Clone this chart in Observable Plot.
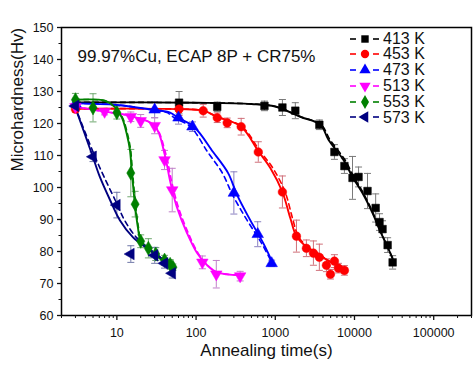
<!DOCTYPE html>
<html><head><meta charset="utf-8">
<script src="https://cdn.jsdelivr.net/npm/d3@7"></script>
<script src="https://cdn.jsdelivr.net/npm/@observablehq/plot@0.6"></script>
<style>
body{margin:0;background:#fff;font-family:"Liberation Sans",Arial,sans-serif;}
#wrap{position:relative;width:474px;height:370px;overflow:hidden;}
#legend{position:absolute;left:348px;top:30.6px;}
.row{display:flex;align-items:center;height:15.8px;font-size:16px;color:#111;line-height:15.8px;}
.row svg{display:block;}
</style></head><body><div id="wrap"><div id="chart"></div><div id="legend"></div></div>
<script>
// ---- data ----
const seriesNames = ["413 K", "453 K", "473 K", "513 K", "553 K", "573 K"];
const annotation = "99.97%Cu, ECAP 8P + CR75%";
const xTitle = "Annealing time(s)";
const yTitle = "Microhardness(Hv)";
const xTickLabels = [10, 100, 1000, 10000, 100000];
const yTickLabels = [60, 70, 80, 90, 100, 110, 120, 130, 140, 150];

// measured points: time (s), hardness (Hv), error (Hv)
const t413 = [61, 185, 730, 1230, 1790, 3600, 5580, 7460, 9440, 11250, 14600, 18500, 20700, 22600, 26200, 30300];
const h413 = [126.5, 125.2, 125.5, 125.0, 124.0, 119.6, 111.1, 106.7, 103.0, 103.3, 98.9, 93.6, 89.2, 87.0, 82.0, 76.6];
const e413 = [3.5, 1.5, 1.5, 2.5, 2.5, 1.5, 2.3, 2.3, 6.7, 3.1, 5.5, 4.4, 2.6, 2.6, 2.3, 2.1];

const t453 = [3, 61, 123, 185, 247, 371, 610, 1230, 1850, 2470, 3030, 3600, 4420, 4970, 5580, 6270, 7460];
const h453 = [124.5, 124.5, 124.0, 121.8, 120.2, 119.0, 111.1, 98.6, 84.8, 81.0, 79.5, 78.2, 75.7, 72.9, 77.0, 74.8, 74.1];
const e453 = [1, 2, 2, 1.5, 1.5, 2.6, 3.2, 5, 5, 2.6, 3.8, 4.1, 2, 1.5, 2, 1.5, 1.5];

const t473 = [3, 30, 60, 90, 300, 600, 900];
const h473 = [126.2, 124.3, 121.8, 119.0, 98.3, 85.4, 76.3];
const e473 = [1.5, 2.5, 2, 1.5, 6.6, 3.9, 1];

const t513 = [3, 7, 15, 20, 30, 40, 50, 120, 180, 360];
const h513 = [125.2, 123.7, 122.1, 120.8, 119.3, 108.6, 99.2, 76.6, 72.9, 72.3];
const e513 = [1, 1, 1.5, 2, 2.5, 3, 6.8, 2, 4.3, 1.5];

const t553 = [3, 5, 10, 15, 17, 20, 25, 31, 40, 47, 51];
const h553 = [127.4, 124.9, 123.4, 104.5, 94.8, 83.2, 81.0, 79.2, 77.3, 76.0, 75.1];
const e553 = [2, 4.4, 2, 7.4, 4, 2, 3, 2, 1.5, 1.5, 1];

const t573 = [3, 5, 10, 15, 30, 40, 50];
const h573 = [125.5, 109.6, 94.5, 79.2, 78.8, 76.3, 73.2];
const e573 = [1.5, 1.5, 4, 2.6, 2.5, 1.5, 1.5];

// fitted curves: hardness levels, with the time of the
// solid fit (ft*) and of the dashed fit (dt*) at that level
const fh413 = [126.6, 126.5, 126.1, 125.3, 122.1, 119.6, 114.9, 108.6, 103.3, 98.3, 92.0, 86.1, 81.4, 77.8];
const ft413 = [3, 100, 500, 1000, 2070, 3720, 4690, 7260, 9440, 12600, 16900, 21300, 26200, 30300];
const dt413 = [3, 100, 500, 1000, 2100, 3800, 4900, 7600, 9800, 12900, 17200, 21500, 26200, 30300];

const fh453 = [124.6, 124.5, 124.0, 122.1, 119.0, 111.4, 106.1, 98.6, 90.4, 84.8, 81.3, 79.5, 77.3, 75.7, 74.4];
const ft453 = [3, 61, 123, 185, 371, 610, 866, 1230, 1550, 1850, 2540, 3400, 4550, 6090, 7690];
const dt453 = [3, 61, 123, 185, 380, 640, 930, 1330, 1650, 1950, 2600, 3450, 4550, 6090, 7690];

const fh473 = [126.3, 125.8, 124.3, 123.4, 121.8, 119.0, 111.1, 104.5, 97.6, 89.8, 82.6, 76.0];
const ft473 = [3, 10, 28.5, 47, 59, 94, 164, 254, 330, 483, 705, 944];
const dt473 = [3, 10, 27, 43, 53, 85, 140, 215, 290, 440, 670, 930];

const fh513 = [125.2, 123.7, 122.4, 119.3, 110.5, 102.0, 94.0, 85.7, 79.5, 75.7, 73.5, 72.6];
const ft513 = [3, 7, 14.6, 30, 40, 47, 57, 77, 103, 138, 185, 360];
const dt513 = [3, 7, 14.6, 30, 41.5, 49, 59.5, 80, 106, 140, 185, 360];

const fh553 = [127.4, 127.1, 125.2, 121.8, 116.5, 111.8, 104.5, 94.8, 87.6, 83.2, 79.8, 76.6, 75.1];
const ft553 = [2.94, 7.05, 9.4, 11.6, 13.4, 14.6, 15.5, 16.9, 18.4, 20.1, 27.7, 40.5, 51];
const dt553 = [2.94, 7.05, 9.4, 11.8, 13.7, 14.9, 15.8, 17.2, 18.7, 20.4, 28, 40.5, 51];

const fh573 = [125.5, 109.6, 103.3, 96.1, 89.8, 84.5, 81.0, 78.2, 76.3];
const ft573 = [2.94, 4.97, 6.1, 8.2, 10.9, 15.9, 24.0, 35, 50];
const dt573 = [2.94, 5.3, 6.9, 9.5, 12.5, 17.5, 25.5, 36, 50];

// ---- styles ----
const colors = ["#000000", "#ff0000", "#0000ff", "#ff00ff", "#008000", "#000080"];
const errColors = ["#7a7a7a", "#d0707a", "#8a80c0", "#c080c8", "#70a870", "#7078a8"];
const sqrt3 = Math.sqrt(3);
const triDown = {draw(c, s) { const y = -Math.sqrt(s / (sqrt3 * 3)); c.moveTo(0, -2 * y); c.lineTo(-sqrt3 * y, y); c.lineTo(sqrt3 * y, y); c.closePath(); }};
const triLeft = {draw(c, s) { const y = -Math.sqrt(s / (sqrt3 * 3)); c.moveTo(2 * y, 0); c.lineTo(-y, -sqrt3 * y); c.lineTo(-y, sqrt3 * y); c.closePath(); }};
const cap = {draw(c, s) { c.moveTo(-3.5, 0); c.lineTo(3.5, 0); }};
const symbols = ["square", "circle", "triangle", triDown, "diamond", triLeft];
const d3Symbols = [d3.symbolSquare, d3.symbolCircle, d3.symbolTriangle, triDown, d3.symbolDiamond, triLeft];

const T = [t413, t453, t473, t513, t553, t573];
const H = [h413, h453, h473, h513, h553, h573];
const E = [e413, e453, e473, e513, e553, e573];
const FH = [fh413, fh453, fh473, fh513, fh553, fh573];
const FT = [ft413, ft453, ft473, ft513, ft553, ft573];
const DT = [dt413, dt453, dt473, dt513, dt553, dt573];

const pts = seriesNames.map((n, i) => T[i].map((t, j) => ({t, h: H[i][j], e: E[i][j]})));
const fits = seriesNames.map((n, i) => FT[i].map((t, j) => ({t, h: FH[i][j]})));
const dashed = seriesNames.map((n, i) => DT[i].map((t, j) => ({t, h: FH[i][j]})));

// minor ticks of log axis
const xMinor = [];
for (const dec of [1, 10, 100, 1000, 10000, 100000]) for (let m = 2; m <= 9; m++) { const v = dec * m; if (v >= 2 && v <= 300000) xMinor.push(v); }
const yMinor = yTickLabels.slice(0, -1).map(v => v + 5);

const marks = [];
pts.forEach((p, i) => {
  marks.push(Plot.ruleX(p, {x: "t", y1: d => d.h - d.e, y2: d => d.h + d.e, stroke: errColors[i], strokeWidth: 1}));
  marks.push(Plot.dot(p, {x: "t", y: d => d.h + d.e, symbol: cap, stroke: errColors[i], fill: "none", strokeWidth: 1}));
  marks.push(Plot.dot(p, {x: "t", y: d => d.h - d.e, symbol: cap, stroke: errColors[i], fill: "none", strokeWidth: 1}));
});
dashed.forEach((f, i) => {
  marks.push(Plot.line(f, {x: "t", y: "h", stroke: colors[i], strokeWidth: 1.6, strokeDasharray: "5,4", curve: "catmull-rom"}));
});
fits.forEach((f, i) => {
  marks.push(Plot.line(f, {x: "t", y: "h", stroke: colors[i], strokeWidth: 1.9, curve: "catmull-rom"}));
});
pts.forEach((p, i) => {
  marks.push(Plot.dot(p, {x: "t", y: "h", symbol: symbols[i], r: 4.3, fill: colors[i], stroke: colors[i], strokeWidth: 0.5}));
});

const chart = Plot.plot({
  width: 474, height: 370,
  marginLeft: 61, marginRight: 3, marginTop: 27, marginBottom: 55,
  style: {fontFamily: '"Liberation Sans", Arial, sans-serif', fontSize: "12.5px", color: "#111", background: "#fff"},
  x: {type: "log", domain: [2, 300000]},
  y: {domain: [60, 150]},
  marks: [
    ...marks,
    Plot.frame({stroke: "#000", strokeWidth: 1.5}),
    Plot.axisX({ticks: xTickLabels, tickSize: 5, tickPadding: 8, tickFormat: d => String(d), label: null, strokeWidth: 1.3}),
    Plot.axisX({ticks: xMinor, tickSize: 3, tickFormat: () => "", label: null, strokeWidth: 1}),
    Plot.axisY({ticks: yTickLabels, tickSize: 4, tickPadding: 4, tickFormat: d => String(d), label: null, strokeWidth: 1.3}),
    Plot.axisY({ticks: yMinor, tickSize: 2.5, tickFormat: () => "", label: null, strokeWidth: 1}),
    Plot.text([annotation], {frameAnchor: "top-left", dx: 16, dy: 29, text: d => d, fontSize: 17, textAnchor: "start", lineAnchor: "middle", fill: "#111"}),
    Plot.text([xTitle], {frameAnchor: "bottom", dy: 35, text: d => d, fontSize: 17, lineAnchor: "middle", fill: "#111"}),
    Plot.text([yTitle], {frameAnchor: "left", dx: -44, text: d => d, fontSize: 17, rotate: -90, lineAnchor: "middle", fill: "#111"})
  ]
});
document.getElementById("chart").appendChild(chart);

// legend
const legend = d3.select("#legend");
seriesNames.forEach((n, i) => {
  const row = legend.append("div").attr("class", "row");
  const svg = row.append("svg").attr("width", 35).attr("height", 16);
  svg.append("line").attr("x1", 2).attr("x2", 8).attr("y1", 8).attr("y2", 8).attr("stroke", colors[i]).attr("stroke-width", 1.6);
  svg.append("line").attr("x1", 25).attr("x2", 31).attr("y1", 8).attr("y2", 8).attr("stroke", colors[i]).attr("stroke-width", 1.6);
  svg.append("path").attr("transform", "translate(17,8)").attr("d", d3.symbol(d3Symbols[i], 55)()).attr("fill", colors[i]);
  row.append("span").text(n);
});
</script></body></html>
